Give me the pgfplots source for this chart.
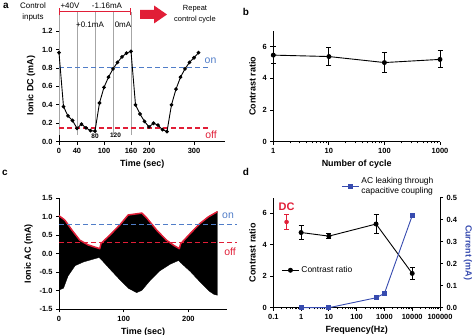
\documentclass[border=0pt]{standalone}
\usepackage{pgfplots}
\pgfplotsset{compat=1.18}
\usepackage{fontspec}
\setmainfont{Liberation Sans}
\definecolor{myred}{RGB}{225,30,55}
\definecolor{myblue}{RGB}{55,75,175}
\definecolor{onblue}{RGB}{80,125,200}

\pgfplotsset{
  prism/.style={
    scale only axis,
    axis lines=left,
    axis line style={-, line width=0.9bp},
    tick align=outside,
    major tick length=3bp,
    minor tick length=1.8bp,
    tick style={line width=0.8bp, black},
    tick label style={font=\bfseries\fontsize{7.5}{9}\selectfont},
    label style={font=\bfseries\fontsize{9}{10}\selectfont},
    /pgf/number format/assume math mode=true,
    /pgf/number format/1000 sep={},
    clip=false,
  },
  onedec/.style={/pgf/number format/.cd, fixed, fixed zerofill, precision=1},
}

\begin{document}
\begin{tikzpicture}
\useasboundingbox (0bp,0bp) rectangle (474bp,335bp);

% ---------------- panel a ----------------
\begin{axis}[prism, at={(59bp,193.3bp)}, anchor=south west,
  width=166.5bp, height=112.5bp,
  xmin=0, xmax=370, ymin=0, ymax=1.22,
  xtick={0,40,100,160,200,300},
  ytick={0,0.2,0.4,0.6,0.8,1.0,1.2},
  yticklabel style={onedec},
  xlabel={Time (sec)}, ylabel={Ionic DC (mA)}]
\foreach \t in {0,40,80,120,160}{
  \edef\tmp{\noexpand\draw[gray!70, line width=0.5bp] (axis cs:\t,0.07) -- (axis cs:\t,1.41);}\tmp
}
\draw[myred, line width=1.3bp] (axis cs:0,1.41) -- (axis cs:160,1.41);
\draw[myred, line width=1bp] (axis cs:0,1.37) -- (axis cs:0,1.45);
\draw[myred, line width=1bp] (axis cs:160,1.37) -- (axis cs:160,1.45);
\addplot[onblue, line width=1bp, dash pattern=on 5bp off 3bp] coordinates {(0,0.8) (331,0.8)};
\addplot[myred, line width=1.3bp, dash pattern=on 5bp off 3bp] coordinates {(0,0.15) (331,0.15)};
\addplot[black, line width=0.9bp, mark=*, mark size=1.4bp] coordinates {
(0,0.965)(10,0.38)(20,0.28)(30,0.23)(40,0.145)(50,0.19)(60,0.15)(70,0.12)(80,0.115)
(90,0.42)(100,0.59)(110,0.70)(120,0.79)(130,0.86)(140,0.92)(150,0.96)(160,0.98)
(170,0.40)(180,0.30)(190,0.22)(200,0.16)(210,0.20)(220,0.18)(230,0.13)(240,0.11)
(250,0.40)(260,0.57)(270,0.70)(280,0.79)(290,0.86)(300,0.91)(310,0.965)};
\end{axis}

% annotations a
\node[font=\bfseries\fontsize{10}{12}\selectfont] at (6bp,329bp) {a};
\node[align=center, font=\fontsize{8}{11}\selectfont] at (33bp,323.5bp) {Control\\inputs};
\node[font=\fontsize{8}{10}\selectfont] at (70bp,329bp) {+40V};
\node[font=\fontsize{8}{10}\selectfont] at (107bp,329bp) {-1.16mA};
\node[font=\fontsize{8}{10}\selectfont] at (90bp,310bp) {+0.1mA};
\node[font=\fontsize{8}{10}\selectfont] at (123bp,310bp) {0mA};
\fill[myred] (140bp,325bp)--(154bp,325bp)--(154bp,329.5bp)--(167bp,320.5bp)--(154bp,311.5bp)--(154bp,316bp)--(140bp,316bp)--cycle;
\node[align=center, font=\fontsize{7.5}{11}\selectfont] at (195bp,321bp) {Repeat\\control cycle};
\node[font=\bfseries\fontsize{6.5}{8}\selectfont] at (95bp,198.5bp) {80};
\node[font=\bfseries\fontsize{6.5}{8}\selectfont] at (115.5bp,200bp) {120};
\node[onblue, font=\fontsize{10.5}{12}\selectfont] at (210.5bp,274.3bp) {on};
\node[myred, font=\fontsize{10.5}{12}\selectfont] at (211bp,200bp) {off};

% ---------------- panel b ----------------
\begin{axis}[prism, at={(273.3bp,193.3bp)}, anchor=south west,
  width=166.7bp, height=110.8bp,
  xmode=log, xmin=1, xmax=1000, ymin=0, ymax=7,
  xtick={1,10,100,1000}, xticklabels={1,10,100,1000},
  minor xtick={2,3,4,5,6,7,8,9,20,30,40,50,60,70,80,90,200,300,400,500,600,700,800,900},
  ytick={0,2,4,6},
  xlabel={Number of cycle}, ylabel={Contrast ratio}]
\addplot[black, line width=0.9bp, mark=*, mark size=2bp,
  error bars/.cd, y dir=both, y explicit,
  error bar style={line width=0.9bp},
  error mark options={rotate=90, mark size=2.5bp, line width=0.9bp}]
  coordinates {(1,5.47) +- (0,0.53) (10,5.38) +- (0,0.56) (100,5.0) +- (0,0.63) (1000,5.2) +- (0,0.54)};
\end{axis}
\node[font=\bfseries\fontsize{10}{12}\selectfont] at (246bp,323bp) {b};

% ---------------- panel c ----------------
\begin{axis}[prism, at={(59bp,25.7bp)}, anchor=south west,
  width=168.2bp, height=111bp,
  xmin=0, xmax=260, ymin=-1.5, ymax=1.5,
  xtick={0,100,200},
  ytick={-1.5,-1,-0.5,0,0.5,1,1.5},
  yticklabel style={onedec},
  xlabel={Time (sec)}, ylabel={Ionic AC (mA)}]
\addplot[fill=black, draw=black, line width=0.3bp] coordinates {
(0,1.03)(9,0.91)(20,0.64)(32,0.37)(45,0.24)(61,0.15)(63,0.14)(65,0.28)(79,0.51)(94,0.78)
(107,1.05)(120,1.08)(128,1.1)(136,0.96)(151,0.64)(166,0.37)(178,0.22)(186,0.14)(188,0.27)
(203,0.55)(218,0.82)(231,1.0)(245,1.14)
(245,-1.12)(240,-1.1)(233,-1.02)(218,-0.76)(203,-0.48)(188,-0.24)(185,-0.18)(172,-0.28)
(156,-0.46)(141,-0.72)(128,-0.99)(120,-1.05)(107,-0.93)(94,-0.7)(79,-0.42)(65,-0.15)
(62,-0.10)(50,-0.16)(38,-0.22)(25,-0.32)(14,-0.6)(7,-0.93)(0,-0.98)};
\addplot[myred, line width=1.5bp, line join=round] coordinates {
(0,1.03)(9,0.91)(20,0.64)(32,0.37)(45,0.24)(61,0.15)(63,0.14)(65,0.28)(79,0.51)(94,0.78)
(107,1.05)(120,1.08)(128,1.1)(136,0.96)(151,0.64)(166,0.37)(178,0.22)(186,0.14)(188,0.27)
(203,0.55)(218,0.82)(231,1.0)(245,1.14)};
\addplot[onblue, line width=1bp, dash pattern=on 5bp off 3bp] coordinates {(0,0.8) (275,0.8)};
\addplot[myred, line width=1.1bp, dash pattern=on 5bp off 3bp] coordinates {(0,0.3) (275,0.3)};
\end{axis}
\node[font=\bfseries\fontsize{10}{12}\selectfont] at (5bp,162bp) {c};
\node[onblue, font=\fontsize{10.5}{12}\selectfont] at (228bp,119.3bp) {on};
\node[myred, font=\fontsize{10.5}{12}\selectfont] at (230bp,83bp) {off};

% ---------------- panel d ----------------
\begin{axis}[prism, at={(273.3bp,27.3bp)}, anchor=south west,
  width=166.7bp, height=110.1bp,
  axis x line*=bottom, axis y line*=left,
  xmode=log, xmin=0.1, xmax=100000, ymin=0, ymax=7,
  xtick={0.1,1,10,100,1000,10000,100000},
  xticklabels={0.1,1,10,100,1000,10000,100000},
  minor xtick={0.2,0.3,0.4,0.5,0.6,0.7,0.8,0.9,2,3,4,5,6,7,8,9,20,30,40,50,60,70,80,90,
    200,300,400,500,600,700,800,900,2000,3000,4000,5000,6000,7000,8000,9000,
    20000,30000,40000,50000,60000,70000,80000,90000},
  ytick={0,2,4,6},
  xlabel={Frequency(Hz)}, ylabel={Contrast ratio},
  legend style={at={(0.03,0.34)}, anchor=west, draw=none, fill=none,
    font=\fontsize{8.5}{10}\selectfont}]
\addplot[myred, only marks, mark=*, mark size=2bp, forget plot,
  error bars/.cd, y dir=both, y explicit,
  error bar style={line width=0.9bp},
  error mark options={rotate=90, mark size=2.5bp, line width=0.9bp}]
  coordinates {(0.3,5.45) +- (0,0.5)};
\addplot[black, line width=0.9bp, mark=*, mark size=2bp,
  error bars/.cd, y dir=both, y explicit,
  error bar style={line width=0.9bp},
  error mark options={rotate=90, mark size=2.5bp, line width=0.9bp}]
  coordinates {(1,4.78) +- (0,0.47) (10,4.55) +- (0,0.17) (500,5.32) +- (0,0.62) (10000,2.18) +- (0,0.4)};
\addlegendentry{Contrast ratio}
\node[myred, font=\bfseries\fontsize{11}{12}\selectfont] at (axis cs:0.3,6.45) {DC};
\end{axis}
\begin{axis}[prism, at={(273.3bp,27.3bp)}, anchor=south west,
  width=166.7bp, height=110.1bp,
  axis x line=none, axis y line*=right,
  xmode=log, xmin=0.1, xmax=100000, ymin=0, ymax=0.5,
  ytick={0,0.1,0.2,0.3,0.4,0.5},
  yticklabel style={onedec},
  ylabel={Current (mA)},
  ylabel style={myblue, rotate=180},
  legend style={at={(0.39,1.10)}, anchor=west, draw=none, fill=none,
    cells={align=left}, font=\fontsize{8.5}{10}\selectfont}]
\addplot[myblue, line width=0.9bp, mark=square*, mark size=2bp]
  coordinates {(1,0.0) (10,0.0) (500,0.045) (1000,0.065) (10000,0.418)};
\addlegendentry{AC leaking through\\capacitive coupling}
\end{axis}
\node[font=\bfseries\fontsize{10}{12}\selectfont] at (246bp,163bp) {d};

\end{tikzpicture}
\end{document}
